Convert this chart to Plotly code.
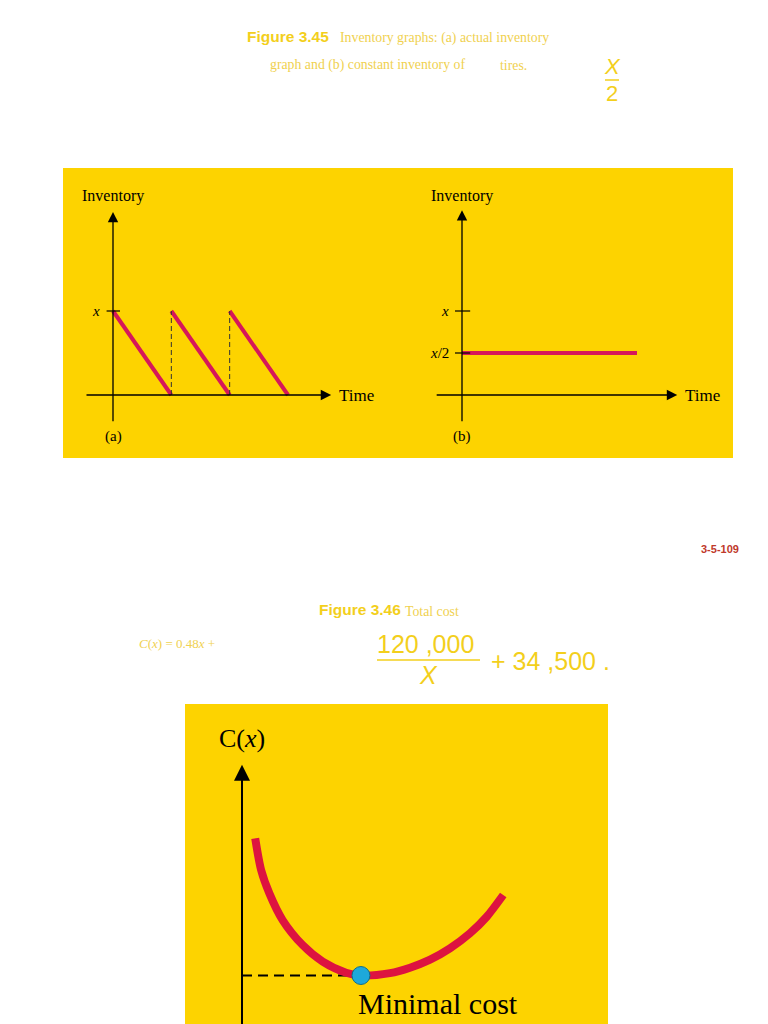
import plotly.graph_objects as go

W, H = 768, 1024
OFF = 8  # page margin around the plot div

# Figure 3.45 (a): actual inventory, saw-tooth (x = full order, one time unit per cycle)
saw_t = [0, 1, None, 1, 2, None, 2, 3]
saw_inv = [1, 0, None, 1, 0, None, 1, 0]
restock_t = [1, 2]
# Figure 3.45 (b): constant inventory of x/2
const_t = [0, 3]
const_inv = [0.5, 0.5]
inv_ticks_a = [1]
inv_labels_a = ["<i>x</i>"]
inv_ticks_b = [1, 0.5]
inv_labels_b = ["<i>x</i>", "<i>x</i>/2"]
# Figure 3.46: total cost curve (schematic)
cost_q = [0.56, 0.81, 1.16, 1.72, 2.57, 3.42, 4.41, 5.04, 6.27, 7.12, 7.97, 8.81, 9.66, 10.37, 11.07]
cost_c = [7.78, 6.44, 5.45, 4.32, 3.26, 2.56, 2.09, 1.97, 2.07, 2.30, 2.64, 3.12, 3.76, 4.46, 5.38]
min_q, min_c = 5.04, 1.97

YELLOW = "#FDD300"
TXT_Y = "#F3CF1C"
TXT_PALE = "#F0D150"
SERIF = "Liberation Serif, Times New Roman, serif"
SANS = "Liberation Sans, Arial, sans-serif"


def px(x):
    return (x - OFF) / W


def py(y):
    return 1 - (y - OFF) / H


def xr(p0, p1, origin, scale):
    return [(p0 - origin) / scale, (p1 - origin) / scale]


def yr(pbot, ptop, origin, scale):
    return [(origin - pbot) / scale, (origin - ptop) / scale]


fig = go.Figure()

# ---- panel (a)
fig.add_trace(go.Scatter(x=saw_t, y=saw_inv, mode="lines", xaxis="x", yaxis="y",
                         line=dict(color="#D6175A", width=4)))
for t in restock_t:
    fig.add_trace(go.Scatter(x=[t, t], y=[0, 1], mode="lines", xaxis="x", yaxis="y",
                             line=dict(color="#333333", width=1, dash="5px,3px")))
fig.add_trace(go.Scatter(x=[-0.11, 0.12], y=[inv_ticks_a[0]] * 2, mode="lines",
                         xaxis="x", yaxis="y", line=dict(color="black", width=1.2)))

# ---- panel (b)
fig.add_trace(go.Scatter(x=const_t, y=const_inv, mode="lines", xaxis="x2", yaxis="y2",
                         line=dict(color="#D6175A", width=4)))
tx, ty = [], []
for v in inv_ticks_b:
    tx += [-0.12, 0.14, None]
    ty += [v, v, None]
fig.add_trace(go.Scatter(x=tx, y=ty, mode="lines", xaxis="x2", yaxis="y2",
                         line=dict(color="black", width=1.2)))

# ---- panel (c)
fig.add_trace(go.Scatter(x=[0, min_q], y=[min_c, min_c], mode="lines", xaxis="x3", yaxis="y3",
                         line=dict(color="black", width=2, dash="10px,6px")))
fig.add_trace(go.Scatter(x=cost_q, y=cost_c, mode="lines", xaxis="x3", yaxis="y3",
                         line=dict(color="#DD1340", width=8, shape="spline", smoothing=0.8)))
fig.add_trace(go.Scatter(x=[min_q], y=[min_c], mode="markers", xaxis="x3", yaxis="y3",
                         marker=dict(size=18, color="#1EA8DA", line=dict(color="#0E6E8C", width=1))))

ann = []


def arrow(xref, yref, x0, y0, x1, y1, width, size, head):
    ann.append(dict(x=x1, y=y1, ax=x0, ay=y0, xref=xref, yref=yref, axref=xref, ayref=yref,
                    text="", showarrow=True, arrowhead=head, arrowwidth=width,
                    arrowsize=size, arrowcolor="black"))


def label(xref, yref, x, y, text, size, xanchor="center", xshift=0, yshift=0, font=SERIF, color="black"):
    ann.append(dict(x=x, y=y, xref=xref, yref=yref, text=text, showarrow=False,
                    xanchor=xanchor, yanchor="middle", xshift=xshift, yshift=yshift,
                    font=dict(family=font, size=size, color=color)))


# axes drawn as arrows
arrow("x", "y", -0.48, 0, 3.74, 0, 1.3, 1.6, 2)
arrow("x", "y", 0, -0.33, 0, 2.18, 1.3, 1.6, 2)
arrow("x2", "y2", -0.46, 0, 3.69, 0, 1.3, 1.6, 2)
arrow("x2", "y2", 0, -0.33, 0, 2.20, 1.3, 1.6, 2)
arrow("x3", "y3", 0, -0.2, 0, 10.9, 2, 1.6, 2)

for xa, ya, tip, ticks, labels, tag in [("x", "y", 3.74, inv_ticks_a, inv_labels_a, "(a)"),
                                        ("x2", "y2", 3.69, inv_ticks_b, inv_labels_b, "(b)")]:
    label(xa, ya, 0, 2.37, "Inventory", 16)
    label(xa, ya, tip, 0, "Time", 17, xanchor="left", xshift=6)
    label(xa, ya, 0, -0.49, tag, 15)
    for v, t in zip(ticks, labels):
        label(xa, ya, 0, v, t, 15, xanchor="right", xshift=-11)

label("x3", "y3", 0, 12.03, "C(<i>x</i>)", 26)
label("x3", "y3", min_q, min_c, "Minimal cost", 30, xanchor="left", xshift=-5, yshift=-28)

# page texts
label("paper", "paper", px(245), py(36), "<b>Figure 3.45</b>", 15.5, "left", font=SANS, color=TXT_Y)
label("paper", "paper", px(338), py(38), "Inventory graphs: (a) actual inventory", 13.8, "left", color=TXT_PALE)
label("paper", "paper", px(268), py(65), "graph and (b) constant inventory of", 13.8, "left", color=TXT_PALE)
label("paper", "paper", px(498), py(65), "tires.", 13.8, "left", color=TXT_PALE)
label("paper", "paper", px(612), py(66), "<i>X</i>", 22, font=SANS, color=TXT_Y)
label("paper", "paper", px(612), py(93), "2", 22, font=SANS, color=TXT_Y)
label("paper", "paper", px(741), py(549), "<b>3-5-109</b>", 11, "right", font=SANS, color="#C0392B")
label("paper", "paper", px(317), py(609), "<b>Figure 3.46</b>", 15.5, "left", font=SANS, color=TXT_Y)
label("paper", "paper", px(403), py(611), "Total cost", 13.8, "left", color=TXT_PALE)
label("paper", "paper", px(137), py(643), "<i>C</i>(<i>x</i>) = 0.48<i>x</i> +", 13, "left", color=TXT_PALE)
label("paper", "paper", px(425), py(644), "120 ,000", 25, font=SANS, color=TXT_Y)
label("paper", "paper", px(428), py(675), "<i>X</i>", 25, font=SANS, color=TXT_Y)
label("paper", "paper", px(489), py(661), "+ 34 ,500 .", 25, "left", font=SANS, color=TXT_Y)

shapes = [
    dict(type="rect", xref="paper", yref="paper", x0=px(63), x1=px(733), y0=py(458), y1=py(168),
         fillcolor=YELLOW, line=dict(width=0), layer="below"),
    dict(type="rect", xref="paper", yref="paper", x0=px(185), x1=px(608), y0=py(1032), y1=py(704),
         fillcolor=YELLOW, line=dict(width=0), layer="below"),
    dict(type="line", xref="paper", yref="paper", x0=px(605), x1=px(619), y0=py(80), y1=py(80),
         line=dict(color=TXT_Y, width=1.5)),
    dict(type="line", xref="paper", yref="paper", x0=px(377), x1=px(480), y0=py(660), y1=py(660),
         line=dict(color=TXT_Y, width=1.5)),
]

hidden = dict(visible=False, fixedrange=True)
SA_X, SA_Y = 58.33, 84.0
SC = 23.6
fig.update_layout(
    width=W, height=H, margin=dict(l=0, r=0, t=0, b=0),
    paper_bgcolor="white", plot_bgcolor="rgba(0,0,0,0)", showlegend=False,
    xaxis=dict(domain=[px(66), px(400)], range=xr(66, 400, 113, SA_X), **hidden),
    yaxis=dict(domain=[py(455), py(175)], range=yr(455, 175, 395, SA_Y), **hidden),
    xaxis2=dict(domain=[px(415), px(730)], range=xr(415, 730, 462, SA_X), anchor="y2", **hidden),
    yaxis2=dict(domain=[py(455), py(175)], range=yr(455, 175, 395, SA_Y), anchor="x2", **hidden),
    xaxis3=dict(domain=[px(188), px(605)], range=xr(188, 605, 242, SC), anchor="y3", **hidden),
    yaxis3=dict(domain=[py(1032), py(706)], range=yr(1032, 706, 1022, SC), anchor="x3", **hidden),
    annotations=ann, shapes=shapes,
)

fig.write_html("out.html")
